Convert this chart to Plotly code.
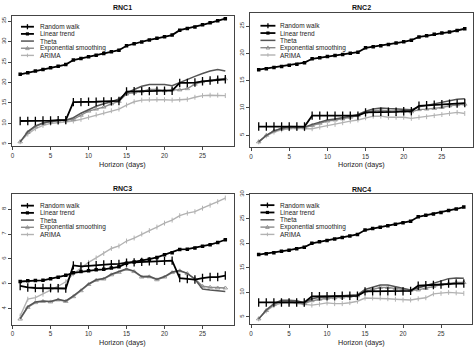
import plotly.graph_objects as go

W, H = 474, 347

# ---------------- data ----------------
horizon = [1, 2, 3, 4, 5, 6, 7, 8, 9, 10, 11, 12, 13, 14,
           15, 16, 17, 18, 19, 20, 21, 22, 23, 24, 25, 26, 27, 28]
series_names = ["Random walk", "Linear trend", "Theta", "Exponential smoothing", "ARIMA"]
panel_titles = ["RNC1", "RNC2", "RNC3", "RNC4"]
x_ticks = [0, 5, 10, 15, 20, 25]

# RNC1
rnc1_rw = [10.6, 10.6, 10.6, 10.7, 10.7, 10.8, 10.8, 15.2, 15.2, 15.3, 15.3, 15.4, 15.4, 15.5,
           17.8, 17.9, 17.9, 17.9, 18.0, 18.0, 18.0, 19.9, 19.9, 20.0, 20.3, 20.5, 20.7, 20.8]
rnc1_lt = [22.0, 22.4, 22.8, 23.2, 23.6, 24.0, 24.4, 25.5, 25.9, 26.3, 26.7, 27.1, 27.5, 27.9,
           29.0, 29.5, 29.9, 30.4, 30.8, 31.2, 31.6, 32.8, 33.2, 33.6, 34.1, 34.6, 35.1, 35.6]
rnc1_theta = [5.5, 8.0, 9.4, 10.1, 10.5, 10.8, 10.8, 11.4, 12.5, 13.4, 14.2, 14.8, 15.3, 16.0,
              17.4, 18.3, 19.1, 19.5, 19.5, 19.5, 19.2, 20.0, 20.8, 21.5, 22.2, 22.8, 23.2, 22.8]
rnc1_es = [5.5, 7.8, 9.2, 10.0, 10.4, 10.6, 10.7, 11.0, 12.0, 13.0, 13.5, 14.0, 14.8, 15.4,
           17.2, 17.6, 17.8, 18.3, 18.3, 18.0, 18.2, 18.2, 18.5, 19.6, 20.2, 20.5, 20.8, 20.9]
rnc1_arima = [5.5, 7.4, 8.7, 9.5, 10.0, 10.2, 10.4, 10.6, 11.0, 11.5, 12.1, 12.6, 13.1, 13.5,
              14.5, 15.3, 15.7, 15.8, 15.8, 15.8, 15.7, 15.8, 15.9, 16.4, 16.8, 16.9, 16.9, 16.8]

# RNC2
rnc2_rw = [6.6, 6.6, 6.6, 6.6, 6.6, 6.6, 6.6, 8.6, 8.6, 8.6, 8.6, 8.6, 8.6, 8.6,
           9.2, 9.2, 9.3, 9.3, 9.3, 9.4, 9.4, 10.4, 10.5, 10.6, 10.7, 10.8, 10.8, 10.9]
rnc2_lt = [17.0, 17.2, 17.4, 17.6, 17.8, 18.0, 18.3, 19.0, 19.2, 19.4, 19.6, 19.8, 20.0, 20.2,
           21.0, 21.2, 21.4, 21.6, 21.9, 22.1, 22.4, 23.0, 23.2, 23.5, 23.7, 23.9, 24.2, 24.5]
rnc2_theta = [3.8, 5.0, 5.8, 6.3, 6.6, 6.6, 6.5, 7.0, 7.4, 7.8, 8.0, 8.2, 8.5, 8.8,
              9.4, 9.8, 10.0, 9.9, 9.8, 9.7, 9.7, 10.2, 10.5, 10.8, 11.1, 11.4, 11.6, 11.7]
rnc2_es = [3.8, 5.0, 5.8, 6.2, 6.4, 6.4, 6.4, 6.8, 7.2, 7.6, 7.8, 8.0, 8.3, 8.6,
           9.2, 9.5, 9.6, 9.5, 9.5, 9.4, 9.3, 9.7, 9.8, 9.9, 10.1, 10.4, 10.6, 10.7]
rnc2_arima = [3.8, 4.9, 5.6, 6.0, 6.2, 6.3, 6.2, 6.2, 6.5, 6.8, 7.0, 7.3, 7.6, 7.8,
              8.2, 8.5, 8.5, 8.3, 8.3, 8.3, 8.1, 8.3, 8.4, 8.6, 8.8, 9.0, 9.2, 9.0]

# RNC3
rnc3_rw = [4.91, 4.85, 4.83, 4.83, 4.83, 4.82, 4.81, 5.74, 5.70, 5.72, 5.75, 5.78, 5.79, 5.80,
           5.85, 5.86, 5.88, 5.90, 5.92, 5.92, 5.93, 5.23, 5.19, 5.17, 5.23, 5.27, 5.27, 5.33]
rnc3_lt = [5.09, 5.12, 5.13, 5.14, 5.20, 5.26, 5.34, 5.44, 5.49, 5.52, 5.56, 5.58, 5.63, 5.68,
           5.83, 5.88, 5.94, 5.99, 6.06, 6.17, 6.25, 6.38, 6.39, 6.44, 6.51, 6.57, 6.66, 6.77]
rnc3_theta = [3.60, 4.08, 4.27, 4.31, 4.29, 4.38, 4.31, 4.51, 4.75, 4.99, 5.16, 5.21, 5.38, 5.48,
              5.60, 5.51, 5.29, 5.30, 5.18, 5.29, 5.47, 5.53, 5.42, 5.18, 4.79, 4.75, 4.72, 4.69]
rnc3_es = [3.58, 4.05, 4.24, 4.29, 4.27, 4.35, 4.29, 4.48, 4.72, 4.97, 5.14, 5.19, 5.36, 5.46,
           5.58, 5.49, 5.27, 5.28, 5.16, 5.27, 5.45, 5.52, 5.41, 5.20, 4.90, 4.86, 4.83, 4.83]
rnc3_arima = [3.70, 4.38, 4.44, 4.58, 4.74, 4.90, 5.08, 5.40, 5.64, 5.86, 6.04, 6.22, 6.42, 6.52,
              6.72, 6.84, 7.00, 7.14, 7.28, 7.44, 7.56, 7.74, 7.84, 7.90, 8.04, 8.16, 8.30, 8.45]

# RNC4
rnc4_rw = [7.95, 7.95, 7.95, 7.95, 7.95, 7.95, 7.95, 9.2, 9.2, 9.2, 9.2, 9.3, 9.3, 9.3,
           10.2, 10.2, 10.2, 10.2, 10.2, 10.2, 10.3, 11.35, 11.45, 11.5, 11.6, 11.8, 11.8, 11.8]
rnc4_lt = [17.7, 17.9, 18.1, 18.4, 18.6, 18.9, 19.2, 20.0, 20.3, 20.6, 20.9, 21.2, 21.5, 21.8,
           22.7, 23.0, 23.3, 23.6, 23.9, 24.2, 24.5, 25.4, 25.7, 26.0, 26.3, 26.7, 27.0, 27.4]
rnc4_theta = [4.6, 6.4, 7.7, 8.4, 8.4, 8.3, 7.9, 8.7, 9.0, 9.0, 9.2, 9.3, 9.4, 9.5,
              10.6, 11.0, 11.5, 11.5, 11.2, 10.8, 10.5, 10.9, 11.4, 11.8, 12.35, 12.8, 12.95, 12.9]
rnc4_es = [4.6, 6.3, 7.5, 8.2, 8.2, 8.0, 7.7, 8.3, 8.6, 8.8, 8.9, 9.0, 9.2, 9.3,
           10.2, 10.6, 11.0, 11.0, 10.8, 10.6, 10.4, 10.5, 10.8, 11.2, 11.6, 11.8, 12.0, 12.0]
rnc4_arima = [4.6, 6.2, 7.3, 7.8, 7.9, 7.7, 7.6, 7.4, 7.6, 7.85, 7.7, 7.7, 7.9, 8.2,
              8.85, 8.85, 8.85, 8.7, 8.6, 8.45, 8.45, 8.7, 8.9, 9.7, 9.8, 10.0, 9.9, 9.8]

panel_data = [
    [rnc1_rw, rnc1_lt, rnc1_theta, rnc1_es, rnc1_arima],
    [rnc2_rw, rnc2_lt, rnc2_theta, rnc2_es, rnc2_arima],
    [rnc3_rw, rnc3_lt, rnc3_theta, rnc3_es, rnc3_arima],
    [rnc4_rw, rnc4_lt, rnc4_theta, rnc4_es, rnc4_arima],
]
y_ticks = [[5, 10, 15, 20, 25, 30, 35], [5, 10, 15, 20, 25], [4, 5, 6, 7, 8], [5, 10, 15, 20, 25, 30]]
y_ranges = [[4.4, 36.3], [2.8, 27.4], [3.35, 8.62], [3.5, 30.1]]

# ---------------- styles ----------------
FONT = "Liberation Sans, Arial, Helvetica, sans-serif"
styles = [
    dict(color="#000000", width=1.8, symbol="line-ns", size=6, mlw=1.3),      # Random walk
    dict(color="#000000", width=1.8, symbol="square", size=3.5, mlw=0),       # Linear trend
    dict(color="#555555", width=1.5, symbol=None, size=0, mlw=0),             # Theta
    dict(color="#8a8a8a", width=1.4, symbol="triangle-up-open", size=4, mlw=0.8),  # Exp smoothing
    dict(color="#b2b2b2", width=1.4, symbol="line-ns", size=3.5, mlw=1.0),    # ARIMA
]

# panel boxes in pixels (left, right, top, bottom)
boxes = [(11, 233, 12, 144), (250, 473, 9, 145), (11, 233, 192, 324.5), (250, 472, 192, 324)]
title_y = [3.5, 3.5, 187, 188]
xlabel_y = [162, 162, 342.5, 342.5]
# legend: line x0, x1, text x, first row y, row step
legends = [(20, 33, 37, 23, 7.25), (260, 275, 278, 22, 7.4),
           (20, 33, 37, 204, 7.3), (260, 274, 278, 203.5, 7.4)]


def px(x):
    return x / W


def py(y):
    return 1 - y / H


fig = go.Figure()
layout = dict(width=W, height=H, margin=dict(l=0, r=0, t=0, b=0),
              paper_bgcolor="white", plot_bgcolor="white", showlegend=False,
              font=dict(family=FONT, color="#222"))
annotations = []
shapes = []

draw_order = [4, 3, 2, 1, 0]
for p in range(4):
    l, r, t, b = boxes[p]
    xa = "xaxis" if p == 0 else f"xaxis{p + 1}"
    ya = "yaxis" if p == 0 else f"yaxis{p + 1}"
    xr = "x" if p == 0 else f"x{p + 1}"
    yr = "y" if p == 0 else f"y{p + 1}"
    layout[xa] = dict(domain=[px(l), px(r)], anchor=yr, range=[-0.08, 29.08],
                      tickvals=x_ticks, ticks="outside", ticklen=3, tickwidth=1,
                      tickcolor="#444", showline=True, mirror=True, linecolor="#444",
                      linewidth=1, showgrid=False, zeroline=False,
                      tickfont=dict(size=6.3, color="#333", family=FONT))
    layout[ya] = dict(domain=[py(b), py(t)], anchor=xr, range=y_ranges[p],
                      tickvals=y_ticks[p], ticks="outside", ticklen=3, tickwidth=1,
                      tickcolor="#444", showline=True, mirror=True, linecolor="#444",
                      linewidth=1, showgrid=False, zeroline=False, tickangle=-90,
                      tickfont=dict(size=6, color="#333", family=FONT))
    for s in draw_order:
        st = styles[s]
        mode = "lines+markers" if st["symbol"] else "lines"
        kw = dict(x=horizon, y=panel_data[p][s], mode=mode, name=series_names[s],
                  xaxis=xr, yaxis=yr, line=dict(color=st["color"], width=st["width"]))
        if st["symbol"]:
            kw["marker"] = dict(symbol=st["symbol"], size=st["size"], color=st["color"],
                                line=dict(color=st["color"], width=st["mlw"]))
        fig.add_trace(go.Scatter(**kw))

    # panel title
    annotations.append(dict(text=f"<b>{panel_titles[p]}</b>", x=px((l + r) / 2), y=py(title_y[p]),
                            xref="paper", yref="paper", showarrow=False, xanchor="center",
                            yanchor="middle", font=dict(size=7, color="#111", family=FONT)))
    # x axis label
    annotations.append(dict(text="Horizon (days)", x=px((l + r) / 2), y=py(xlabel_y[p]),
                            xref="paper", yref="paper", showarrow=False, xanchor="center",
                            yanchor="middle", font=dict(size=7.2, color="#222", family=FONT)))
    # legend
    lx0, lx1, tx, ly0, dy = legends[p]
    for i, name in enumerate(series_names):
        yy = ly0 + i * dy
        st = styles[i]
        shapes.append(dict(type="line", xref="paper", yref="paper",
                           x0=px(lx0), x1=px(lx1), y0=py(yy), y1=py(yy),
                           line=dict(color=st["color"], width=st["width"])))
        mx = (lx0 + lx1) / 2
        if i == 0:
            shapes.append(dict(type="line", xref="paper", yref="paper", x0=px(mx), x1=px(mx),
                               y0=py(yy - 2.6), y1=py(yy + 2.6),
                               line=dict(color=st["color"], width=1.3)))
        elif i == 1:
            shapes.append(dict(type="rect", xref="paper", yref="paper", x0=px(mx - 1.6),
                               x1=px(mx + 1.6), y0=py(yy - 1.6), y1=py(yy + 1.6),
                               fillcolor=st["color"], line=dict(width=0)))
        elif i == 3:
            path = (f"M {px(mx - 1.8)},{py(yy + 1.4)} L {px(mx + 1.8)},{py(yy + 1.4)} "
                    f"L {px(mx)},{py(yy - 1.8)} Z")
            shapes.append(dict(type="path", xref="paper", yref="paper", path=path,
                               line=dict(color=st["color"], width=0.8)))
        elif i == 4:
            shapes.append(dict(type="line", xref="paper", yref="paper", x0=px(mx), x1=px(mx),
                               y0=py(yy - 1.8), y1=py(yy + 1.8),
                               line=dict(color=st["color"], width=1.0)))
        annotations.append(dict(text=name, x=px(tx), y=py(yy), xref="paper", yref="paper",
                                showarrow=False, xanchor="left", yanchor="middle",
                                font=dict(size=6.5, color="#222", family=FONT)))

layout["annotations"] = annotations
layout["shapes"] = shapes
fig.update_layout(**layout)
fig.write_html("out.html")
